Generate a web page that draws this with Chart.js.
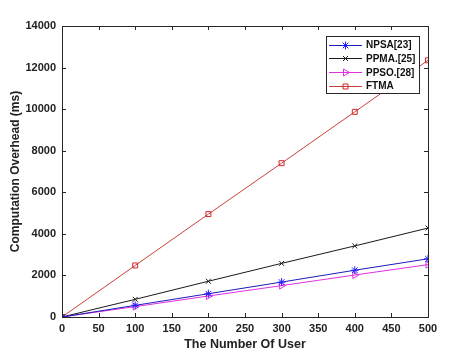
<!DOCTYPE html>
<html><head><meta charset="utf-8">
<script src="https://cdn.jsdelivr.net/npm/chart.js@4.4.0/dist/chart.umd.min.js"></script>
<style>html,body{margin:0;padding:0;background:#fff}</style>
</head><body>
<canvas id="c" width="474" height="355"></canvas>
<script>
const users = [0, 100, 200, 300, 400, 500];
const npsa = [0, 560, 1120, 1680, 2250, 2800];
const ppma = [0, 850, 1720, 2580, 3420, 4280];
const ppso = [0, 500, 1010, 1510, 2020, 2520];
const ftma = [0, 2480, 4950, 7400, 9870, 12350];
const seriesNames = ['NPSA[23]', 'PPMA.[25]', 'PPSO.[28]', 'FTMA'];
const xTicks = [0, 50, 100, 150, 200, 250, 300, 350, 400, 450, 500];
const yTicks = [0, 2000, 4000, 6000, 8000, 10000, 12000, 14000];

const FONT = "'Liberation Sans', Arial, sans-serif";

const styles = [
  {color: '#1c1cb8', marker: '#2020ff', pointStyle: 'star', radius: 4, rotation: 0},
  {color: '#1a1a1a', marker: '#1a1a1a', pointStyle: 'crossRot', radius: 3.5, rotation: 0},
  {color: '#e030e0', marker: '#e030e0', pointStyle: 'triangle', radius: 4, rotation: 90},
  {color: '#c8403c', marker: '#d02828', pointStyle: 'rect', radius: 3.5, rotation: 0}
];
const values = [npsa, ppma, ppso, ftma];

const datasets = values.map((v, i) => ({
  label: seriesNames[i],
  data: users.map((u, k) => ({x: u, y: v[k]})),
  borderColor: styles[i].color,
  borderWidth: 1,
  pointStyle: styles[i].pointStyle,
  pointRadius: styles[i].radius,
  pointRotation: styles[i].rotation,
  pointBorderColor: styles[i].marker,
  pointBackgroundColor: 'rgba(0,0,0,0)',
  pointBorderWidth: 1,
  tension: 0,
  fill: false
}));

const framePlugin = {
  id: 'frame',
  afterDraw(chart) {
    const ctx = chart.ctx;
    const a = chart.chartArea;
    const xs = chart.scales.x, ys = chart.scales.y;
    ctx.save();
    ctx.strokeStyle = '#262626';
    ctx.lineWidth = 1;
    ctx.strokeRect(Math.round(a.left) + 0.5, Math.round(a.top) + 0.5,
      Math.round(a.right - a.left), Math.round(a.bottom - a.top));
    const tl = 4;
    ctx.beginPath();
    xTicks.forEach(t => {
      const x = Math.round(xs.getPixelForValue(t)) + 0.5;
      ctx.moveTo(x, a.bottom); ctx.lineTo(x, a.bottom - tl);
      ctx.moveTo(x, a.top); ctx.lineTo(x, a.top + tl);
    });
    yTicks.forEach(t => {
      const y = Math.round(ys.getPixelForValue(t)) + 0.5;
      ctx.moveTo(a.left, y); ctx.lineTo(a.left + tl, y);
      ctx.moveTo(a.right, y); ctx.lineTo(a.right - tl, y);
    });
    ctx.stroke();

    // legend
    const bx = 326.5, by = 36.5, bw = 93, bh = 57;
    ctx.fillStyle = '#ffffff';
    ctx.fillRect(bx, by, bw, bh);
    ctx.strokeStyle = '#262626';
    ctx.strokeRect(bx, by, bw, bh);
    ctx.font = 'bold 10px ' + FONT;
    ctx.textBaseline = 'middle';
    ctx.textAlign = 'left';
    seriesNames.forEach((name, i) => {
      const y = 44.5 + i * 13.9;
      const s = styles[i];
      ctx.strokeStyle = s.color;
      ctx.beginPath();
      ctx.moveTo(329, Math.round(y) + 0.5);
      ctx.lineTo(362, Math.round(y) + 0.5);
      ctx.stroke();
      ctx.strokeStyle = s.marker;
      ctx.fillStyle = 'rgba(0,0,0,0)';
      Chart.helpers.drawPoint(ctx, {pointStyle: s.pointStyle, radius: s.radius, rotation: s.rotation, borderWidth: 1}, 345.5, Math.round(y) + 0.5);
      ctx.fillStyle = '#111';
      ctx.fillText(name, 366, y + 0.5);
    });
    ctx.restore();
  }
};

new Chart(document.getElementById('c'), {
  type: 'line',
  data: {datasets},
  options: {
    responsive: false,
    animation: false,
    devicePixelRatio: 1,
    layout: {padding: {left: 0, right: 46, top: 26, bottom: 0}},
    plugins: {legend: {display: false}, tooltip: {enabled: false}},
    scales: {
      x: {
        type: 'linear', min: 0, max: 500,
        afterFit(s) { s.height = 38; },
        afterBuildTicks(s) { s.ticks = xTicks.map(v => ({value: v})); },
        grid: {display: false, drawTicks: false},
        border: {display: false},
        ticks: {color: '#222', font: {family: FONT, size: 11, weight: 'bold'}, padding: 5, maxRotation: 0, autoSkip: false},
        title: {display: true, text: 'The Number Of User', color: '#222', font: {family: FONT, size: 12.5, weight: 'bold'}, padding: {top: 0, bottom: 3}}
      },
      y: {
        type: 'linear', min: 0, max: 14000,
        afterFit(s) { s.width = 62; },
        afterBuildTicks(s) { s.ticks = yTicks.map(v => ({value: v})); },
        grid: {display: false, drawTicks: false},
        border: {display: false},
        ticks: {color: '#222', font: {family: FONT, size: 11, weight: 'bold'}, padding: 6, autoSkip: false, callback: v => String(v)},
        title: {display: true, text: 'Computation Overhead (ms)', color: '#222', font: {family: FONT, size: 12, weight: 'bold'}, padding: {top: 8, bottom: 0}}
      }
    }
  },
  plugins: [framePlugin]
});
</script>
</body></html>
